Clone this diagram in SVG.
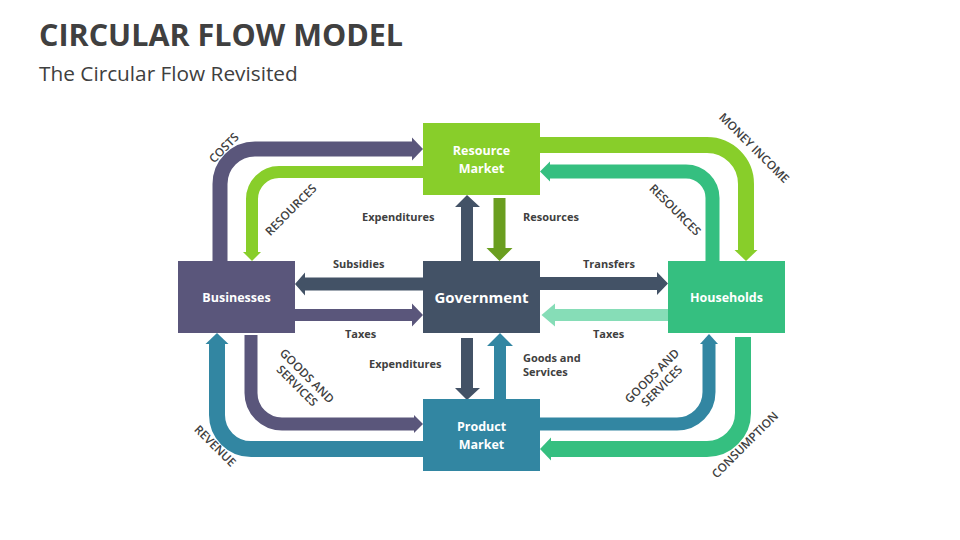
<svg xmlns="http://www.w3.org/2000/svg" width="960" height="540" viewBox="0 0 960 540">
<style>
  text { font-family: "Open Sans", "Liberation Sans", sans-serif; }
  .title { font-size: 30.5px; font-weight: 700; fill: #404040; }
  .sub { font-size: 20.8px; fill: #404040; }
  .nodeLbl { font-size: 12.5px; font-weight: 700; fill: #ffffff; text-anchor: middle; }
  .govLbl { font-size: 15px; font-weight: 700; fill: #ffffff; text-anchor: middle; }
  .lbl { font-size: 11px; font-weight: 700; fill: #404040; }
  .rot { font-size: 11.8px; font-weight: 600; fill: #404040; text-anchor: middle; }
  .s { fill: none; stroke-linecap: butt; stroke-linejoin: miter; }
  .purple { fill: #5A567B; } .purpleS { stroke: #5A567B; }
  .lime { fill: #88CE2A; } .limeS { stroke: #88CE2A; }
  .mint { fill: #35BF80; } .mintS { stroke: #35BF80; }
  .teal { fill: #3286A2; } .tealS { stroke: #3286A2; }
  .navy { fill: #435266; } .navyS { stroke: #435266; }
  .olive { fill: #6A9E1F; }
  .pale { fill: #86DDB7; }
</style>

<text class="title" x="39" y="46">CIRCULAR FLOW MODEL</text>
<text class="sub" x="39" y="81">The Circular Flow Revisited</text>

<g id="connectors">
  <!-- COSTS: Businesses -> Resource Market -->
  <path class="s purpleS" stroke-width="15" d="M220 261 V184 A35 35 0 0 1 255 149 H413"/>
  <polygon class="purple" points="412,137.5 423,149 412,160.5"/>
  <!-- RESOURCES: Resource Market -> Businesses -->
  <path class="s limeS" stroke-width="12" d="M423 172 H279 A27 27 0 0 0 252 199 V253"/>
  <polygon class="lime" points="243,252 261,252 252,261"/>
  <!-- MONEY INCOME: Resource Market -> Households -->
  <path class="s limeS" stroke-width="16" d="M540 145 H707 A39 39 0 0 1 746 184 V251"/>
  <polygon class="lime" points="734.5,250 757.5,250 746,261"/>
  <!-- RESOURCES: Households -> Resource Market -->
  <path class="s mintS" stroke-width="14" d="M712.5 261 V198 A26.5 26.5 0 0 0 686 171.5 H549"/>
  <polygon class="mint" points="550,161.5 540,171.5 550,181.5"/>

  <!-- GOODS AND SERVICES: Businesses -> Product Market -->
  <path class="s purpleS" stroke-width="13" d="M251 335 V393 A31 31 0 0 0 282 424 H415"/>
  <polygon class="purple" points="414,415 423,424 414,433"/>
  <!-- REVENUE: Product Market -> Businesses -->
  <path class="s tealS" stroke-width="16" d="M423 449 H251 A34 34 0 0 1 217 415 V343"/>
  <polygon class="teal" points="205.5,344 228.5,344 217,333"/>
  <!-- GOODS AND SERVICES: Product Market -> Households -->
  <path class="s tealS" stroke-width="13" d="M540 424 H677 A32 32 0 0 0 709 392 V343"/>
  <polygon class="teal" points="700,344 718,344 709,334"/>
  <!-- CONSUMPTION: Households -> Product Market -->
  <path class="s mintS" stroke-width="16" d="M743 337 V413 A36 36 0 0 1 707 449 H550"/>
  <polygon class="mint" points="551,437.5 540,449 551,460.5"/>

  <!-- Government <-> markets -->
  <polygon class="navy" points="461,261 461,207 455,207 467,195 480,207 473,207 473,261"/>
  <polygon class="olive" points="493.5,198 505.5,198 505.5,248 512.5,248 499.5,261 486.5,248 493.5,248"/>
  <polygon class="navy" points="461,338 473,338 473,388 480,388 467,400 455,388 461,388"/>
  <polygon class="teal" points="494,399 494,346 487,346 500,333 513,346 506,346 506,399"/>

  <!-- Government <-> sectors -->
  <polygon class="navy" points="423,277.5 305,277.5 305,272.5 295,284 305,295.5 305,290.5 423,290.5"/>
  <polygon class="purple" points="295,309 412,309 412,303.5 423,315 412,326.5 412,321 295,321"/>
  <polygon class="navy" points="540,277 657,277 657,272 668,283.5 657,295 657,290 540,290"/>
  <polygon class="pale" points="668,309 555,309 555,303.5 541.5,315 555,326.5 555,321 668,321"/>
</g>

<g id="resource-market">
  <rect class="lime" x="423" y="123" width="117" height="72"/>
  <text class="nodeLbl" x="481.5" y="155">Resource</text>
  <text class="nodeLbl" x="481.5" y="173">Market</text>
</g>
<g id="businesses">
  <rect class="purple" x="178" y="261" width="117" height="72"/>
  <text class="nodeLbl" x="236.5" y="301.5">Businesses</text>
</g>
<g id="government">
  <rect class="navy" x="423" y="261" width="117" height="72"/>
  <text class="govLbl" x="481.5" y="302.5">Government</text>
</g>
<g id="households">
  <rect class="mint" x="668" y="261" width="117" height="72"/>
  <text class="nodeLbl" x="726.5" y="301.5">Households</text>
</g>
<g id="product-market">
  <rect class="teal" x="423" y="399" width="117" height="72"/>
  <text class="nodeLbl" x="481.5" y="431">Product</text>
  <text class="nodeLbl" x="481.5" y="449">Market</text>
</g>

<g id="labels">
  <text class="lbl" x="362" y="221">Expenditures</text>
  <text class="lbl" x="523" y="221">Resources</text>
  <text class="lbl" x="333" y="268">Subsidies</text>
  <text class="lbl" x="583" y="268">Transfers</text>
  <text class="lbl" x="345" y="338">Taxes</text>
  <text class="lbl" x="593" y="338">Taxes</text>
  <text class="lbl" x="369" y="368">Expenditures</text>
  <text class="lbl" x="523" y="362">Goods and</text>
  <text class="lbl" x="523" y="376">Services</text>

  <text class="rot" transform="translate(224,148) rotate(-45)" y="4">COSTS</text>
  <text class="rot" transform="translate(291,210) rotate(-45)" y="4">RESOURCES</text>
  <text class="rot" transform="translate(754,148) rotate(45)" y="4">MONEY INCOME</text>
  <text class="rot" transform="translate(675,210) rotate(45)" y="4">RESOURCES</text>
  <text class="rot" transform="translate(302,381) rotate(45)"><tspan x="0" y="-3">GOODS AND</tspan><tspan x="0" y="11">SERVICES</tspan></text>
  <text class="rot" transform="translate(215,446) rotate(45)" y="4">REVENUE</text>
  <text class="rot" transform="translate(657,381) rotate(-45)"><tspan x="0" y="-3">GOODS AND</tspan><tspan x="0" y="11">SERVICES</tspan></text>
  <text class="rot" transform="translate(745,445) rotate(-45)" y="4">CONSUMPTION</text>
</g>
</svg>
